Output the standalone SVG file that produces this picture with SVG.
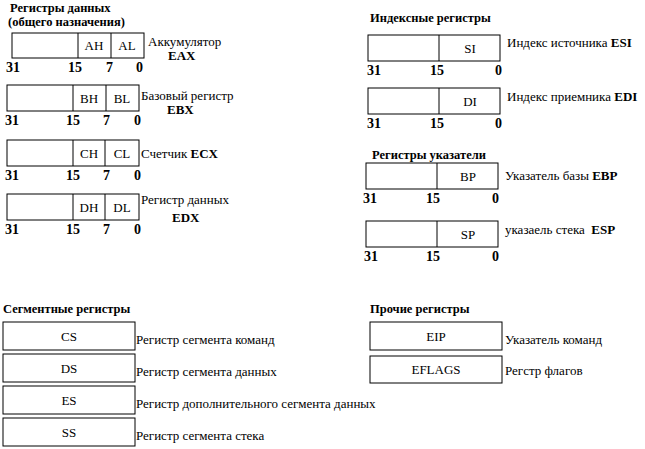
<svg xmlns="http://www.w3.org/2000/svg" width="645" height="449" viewBox="0 0 645 449">
<style>
rect{fill:#fff;stroke:#000;stroke-width:1}
line{stroke:#000;stroke-width:1}
text{font-family:'Liberation Serif','Times New Roman','DejaVu Serif',serif;font-size:13px;fill:#000}
.b{font-weight:bold}
.t{font-weight:bold;font-size:12.5px}
.n{font-weight:bold;font-size:14px}
.c{text-anchor:middle}
</style>
<rect x="0" y="0" width="645" height="449" style="stroke:none"/>
<text class="t" x="10" y="12">Регистры данных</text>
<text class="t" x="8" y="26">(общего назначения)</text>
<g id="eax"><rect x="12" y="33" width="132" height="25"/><line x1="78" y1="33" x2="78" y2="58"/><line x1="111" y1="33" x2="111" y2="58"/>
<text class="c" x="94" y="50">AH</text><text class="c" x="127" y="50">AL</text>
<text class="n" x="6" y="72">31</text><text class="n" x="68" y="72">15</text><text class="n" x="106" y="72">7</text><text class="n" x="136" y="72">0</text>
<text x="148" y="46">Аккумулятор</text><text class="b" x="168" y="60">EAX</text></g>
<g id="ebx"><rect x="7" y="85" width="132" height="26"/><line x1="73" y1="85" x2="73" y2="111"/><line x1="106" y1="85" x2="106" y2="111"/>
<text class="c" x="89" y="103">BH</text><text class="c" x="122" y="103">BL</text>
<text class="n" x="5" y="125">31</text><text class="n" x="66" y="125">15</text><text class="n" x="103" y="125">7</text><text class="n" x="134" y="125">0</text>
<text x="141" y="100">Базовый регистр</text><text class="b" x="167" y="114">EBX</text></g>
<g id="ecx"><rect x="7" y="140" width="132" height="26"/><line x1="73" y1="140" x2="73" y2="166"/><line x1="105" y1="140" x2="105" y2="166"/>
<text class="c" x="89" y="158">CH</text><text class="c" x="122" y="158">CL</text>
<text class="n" x="5" y="180">31</text><text class="n" x="66" y="180">15</text><text class="n" x="103" y="180">7</text><text class="n" x="134" y="180">0</text>
<text x="141" y="158">Счетчик <tspan class="b">ECX</tspan></text></g>
<g id="edx"><rect x="7" y="194" width="132" height="26"/><line x1="73" y1="194" x2="73" y2="220"/><line x1="105" y1="194" x2="105" y2="220"/>
<text class="c" x="89" y="212">DH</text><text class="c" x="122" y="212">DL</text>
<text class="n" x="5" y="234">31</text><text class="n" x="66" y="234">15</text><text class="n" x="103" y="234">7</text><text class="n" x="134" y="234">0</text>
<text x="141" y="204">Регистр данных</text><text class="b" x="172" y="222">EDX</text></g>

<text class="t" x="370" y="22">Индексные регистры</text>
<g id="esi"><rect x="368" y="35" width="132" height="26"/><line x1="439" y1="35" x2="439" y2="61"/>
<text class="c" x="470" y="53">SI</text>
<text class="n" x="367" y="75">31</text><text class="n" x="430" y="75">15</text><text class="n" x="495" y="75">0</text>
<text x="507" y="47">Индекс источника <tspan class="b">ESI</tspan></text></g>
<g id="edi"><rect x="368" y="88" width="132" height="26"/><line x1="439" y1="88" x2="439" y2="114"/>
<text class="c" x="470" y="106">DI</text>
<text class="n" x="367" y="128">31</text><text class="n" x="430" y="128">15</text><text class="n" x="495" y="128">0</text>
<text x="507" y="101">Индекс приемника <tspan class="b">EDI</tspan></text></g>
<text class="t" x="372" y="159">Регистры указатели</text>
<g id="ebp"><rect x="366" y="163" width="132" height="26"/><line x1="437" y1="163" x2="437" y2="189"/>
<text class="c" x="468" y="181">BP</text>
<text class="n" x="363" y="203">31</text><text class="n" x="426" y="203">15</text><text class="n" x="492" y="203">0</text>
<text x="505" y="180">Указатель базы <tspan class="b">EBP</tspan></text></g>
<g id="esp"><rect x="366" y="221" width="132" height="26"/><line x1="437" y1="221" x2="437" y2="247"/>
<text class="c" x="468" y="239">SP</text>
<text class="n" x="364" y="261">31</text><text class="n" x="426" y="261">15</text><text class="n" x="492" y="261">0</text>
<text x="505" y="234" xml:space="preserve">указаель стека  <tspan class="b">ESP</tspan></text></g>

<text class="t" x="3" y="313">Сегментные регистры</text>
<g id="cs"><rect x="3" y="322" width="132" height="28"/><text class="c" x="69" y="341">CS</text><text x="136" y="344">Регистр сегмента команд</text></g>
<g id="ds"><rect x="3" y="354" width="132" height="28"/><text class="c" x="69" y="373">DS</text><text x="136" y="376">Регистр сегмента данных</text></g>
<g id="es"><rect x="3" y="386" width="132" height="28"/><text class="c" x="69" y="405">ES</text><text x="136" y="408">Регистр дополнительного сегмента данных</text></g>
<g id="ss"><rect x="3" y="418" width="132" height="28"/><text class="c" x="69" y="437">SS</text><text x="136" y="440">Регистр сегмента стека</text></g>

<text class="t" x="370" y="313">Прочие регистры</text>
<g id="eip"><rect x="370" y="322" width="132" height="28"/><text class="c" x="436" y="341">EIP</text><text x="505" y="344">Указатель команд</text></g>
<g id="eflags"><rect x="370" y="356" width="132" height="27"/><text class="c" x="436" y="374">EFLAGS</text><text x="505" y="375">Регстр флагов</text></g>
</svg>
